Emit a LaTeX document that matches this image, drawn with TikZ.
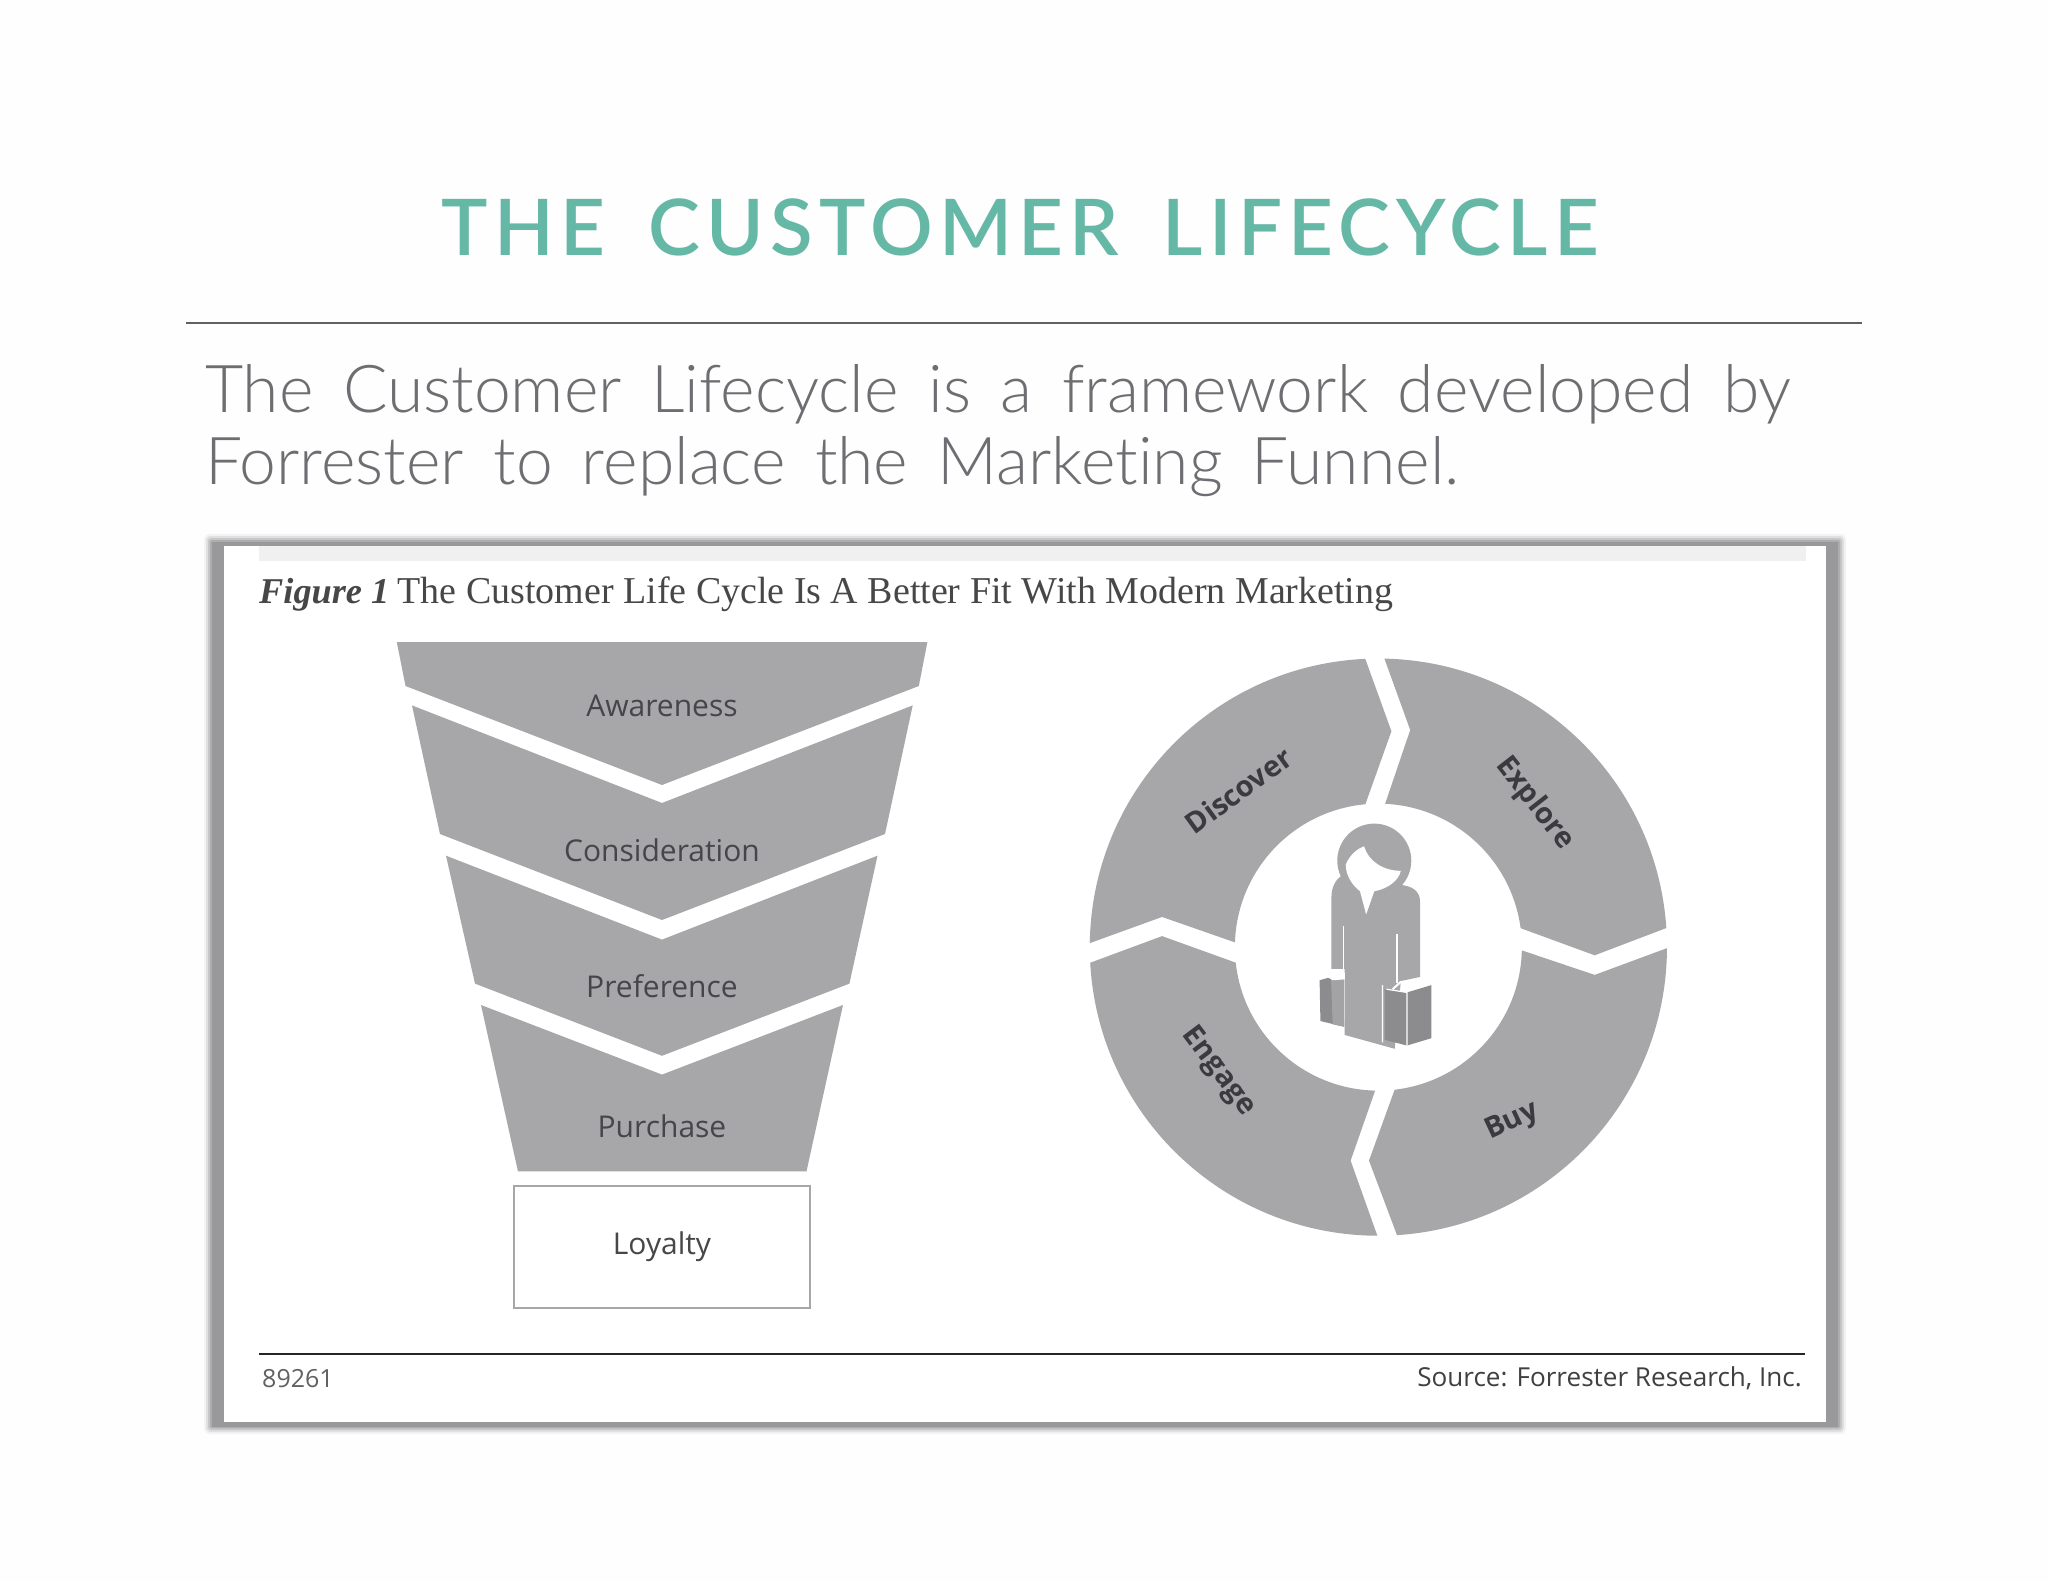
\documentclass[tikz,border=0pt]{standalone}
\usepackage{fontspec}
\setmainfont{Open Sans}
\newfontfamily\titlefont[LetterSpace=8,WordSpace=1.7,Ligatures=NoCommon]{Lato Semibold}
\newfontfamily\bodyfont[Ligatures=NoCommon]{Lato Light}
\newfontfamily\capfont{Liberation Serif}
\definecolor{teal}{HTML}{66B8A6}
\definecolor{bodygrey}{HTML}{6E6E72}
\definecolor{shapegrey}{HTML}{A7A6A9}
\definecolor{bagdark}{HTML}{8C8B8E}
\definecolor{labelink}{HTML}{45454A}
\definecolor{framegrey}{HTML}{99989B}
\tikzset{
  funnelpart/.style={fill=shapegrey,draw=none},
  funnellabel/.style={text=labelink,font=\fontsize{30}{30}\selectfont,inner sep=0pt},
  ringlabel/.style={text=labelink!85!black,font=\fontsize{29}{29}\selectfont\bfseries,inner sep=0pt},
  ringpart/.style={fill=shapegrey,draw=none},
  bodyline/.style={text=bodygrey,font=\bodyfont\fontsize{66}{66}\selectfont,anchor=base west,inner sep=0pt},
}
\begin{document}
\begin{tikzpicture}[x=1pt,y=-1pt]
\useasboundingbox (0,0) rectangle (2048,1582);
\fill[white!99.5!black] (0,0) rectangle (2048,1582);
% title
\node[text=teal,font=\titlefont\fontsize{78}{78}\selectfont,anchor=base,inner sep=0pt] (title) at (1020,255) {THE CUSTOMER LIFECYCLE};
\draw[color=black!62,line width=1.5pt] (186,323) -- (1862,323);
\node[bodyline] (line1) at (205,412) {\makebox[1586pt][s]{The Customer Lifecycle is a framework developed by}};
\node[bodyline] (line2) at (205,484) {\makebox[1254pt][s]{Forrester to replace the Marketing Funnel.}};
% frame
\fill[framegrey!12!white,rounded corners=5pt] (204,534) rectangle (1846,1434);
\fill[framegrey!30!white,rounded corners=4pt] (206,536) rectangle (1844,1432);
\fill[framegrey!55!white,rounded corners=3pt] (208,538) rectangle (1842,1430);
\fill[framegrey!80!white,rounded corners=2pt] (210,540) rectangle (1840,1428);
\fill[framegrey] (212,542) rectangle (1838,1427);
\fill[white] (224,546) rectangle (1826,1422);
\fill[black!6] (259,546) rectangle (1806,561);
% caption
\node[anchor=base west,inner sep=0pt,text=black!72,font=\capfont\fontsize{37.95}{38}\selectfont] (cap) at (259,603) {{\fontsize{36.3}{38}\selectfont\bfseries\itshape Figure 1}\hspace{-1pt} The Customer Life Cycle Is A Better Fit With Modern Marketing};
% funnel
\fill[funnelpart] (396.8,642) -- (927.4,642) -- (918.8,686) -- (662,785) -- (405.5,686) -- cycle;
\fill[funnelpart] (412,705.4) -- (662,803) -- (912.7,705.4) -- (885,834) -- (662,920) -- (440,834) -- cycle;
\fill[funnelpart] (446,855.7) -- (662,939.6) -- (877.5,855.7) -- (849.4,983.6) -- (662,1055.8) -- (475,983.6) -- cycle;
\fill[funnelpart] (481,1005) -- (662,1074.6) -- (843,1005) -- (806.5,1171.4) -- (518,1171.4) -- cycle;
\node[funnellabel] (awareness) at (662,705.4) {Awareness};
\node[funnellabel] (consideration) at (662,850) {Consideration};
\node[funnellabel] (preference) at (662,986.5) {Preference};
\node[funnellabel] (purchase) at (662,1126) {Purchase};
\node[funnellabel,draw=shapegrey,line width=1.5pt,minimum width=296pt,minimum height=122pt,text=black!72] (loyalty) at (662,1247) {\raisebox{-1.5pt}{Loyalty}};
% bottom rule
\draw[black!85,line width=1.6pt] (259,1354) -- (1805,1354);
\node[anchor=base west,inner sep=0pt,text=black!62,font=\fontsize{25}{25}\selectfont] (code) at (262,1387) {89261};
\node[anchor=base east,inner sep=0pt,text=black!75,font=\fontsize{26.1}{26}\selectfont] (source) at (1802,1386) {Source: Forrester Research, Inc.};
% ring
\begin{scope}[shift={(1060,630)},x=0.40816pt,y=-0.40816pt]
\coordinate (rc) at (780,777);
\def\RO{288.6pt}
\def\RI{143.5pt}
\fill[ringpart] ([shift={(92.6:\RO)}]rc) -- (812,248) -- ([shift={(95.2:\RI)}]rc)
  arc[start angle=95.2,end angle=178.1,radius=\RI] -- (250,703) -- ([shift={(179.2:\RO)}]rc)
  arc[start angle=179.2,end angle=92.6,radius=\RO] -- cycle;
\fill[ringpart] ([shift={(88.8:\RO)}]rc) -- (858,245) -- ([shift={(87.3:\RI)}]rc)
  arc[start angle=87.3,end angle=7.6,radius=\RI] -- (1310,797) -- ([shift={(3.8:\RO)}]rc)
  arc[start angle=3.8,end angle=88.8,radius=\RO] -- cycle;
\fill[ringpart] ([shift={(-0.2:\RO)}]rc) -- (1310,845) -- ([shift={(-1.3:\RI)}]rc)
  arc[start angle=-1.3,end angle=-83.5,radius=\RI] -- (757,1300) -- ([shift={(-86.3:\RO)}]rc)
  arc[start angle=-86.3,end angle=-0.2,radius=\RO] -- cycle;
\fill[ringpart] ([shift={(-90.2:\RO)}]rc) -- (712,1300) -- ([shift={(-91.3:\RI)}]rc)
  arc[start angle=-91.3,end angle=-173.8,radius=\RI] -- (250,750) -- ([shift={(-176.9:\RO)}]rc)
  arc[start angle=-176.9,end angle=-90.2,radius=\RO] -- cycle;
\node[ringlabel,rotate=36] (discover) at (437,393) {Discover};
\node[ringlabel,rotate=-52] (explore) at (1163,425) {Explore};
\node[ringlabel,rotate=25] (buy) at (1108,1205) {Buy};
\node[ringlabel,rotate=-53] (engage) at (388,1082) {Engage};
% person
\fill[shapegrey] (770,565) circle[radius=37pt];
\fill[shapegrey] (665,830) -- (665,655) .. controls (665,625) and (680,605) .. (695,600) -- (840,625)
  .. controls (870,630) and (882,645) .. (882,665) -- (882,850) -- (835,860)
  -- (820,1026) -- (697,992) -- (697,830) -- cycle;
\fill[white] (700,575) .. controls (710,550) and (730,535) .. (745,530)
  .. controls (755,565) and (790,590) .. (835,590)
  .. controls (830,615) and (800,635) .. (770,640) -- (750,697) -- (735,640)
  .. controls (715,625) and (700,600) .. (700,575) -- cycle;
\draw[white,line width=1.6pt] (695,725) -- (695,835) (825,745) -- (825,865);
\fill[bagdark] (636,858) -- (694,842) -- (696,972) -- (638,958) -- cycle;
\fill[bagdark!80!white] (660,852) -- (696,842) -- (696,972) -- (668,966) -- (664,855) -- cycle;
\fill[white] (655,850) -- (680,832) -- (698,840) -- (698,856) -- (668,858) -- cycle;
\fill[bagdark] (795,880) -- (850,888) -- (910,870) -- (910,1000) -- (850,1018) -- (795,1004) -- cycle;
\draw[white,line width=1.2pt] (790,870) -- (790,1010) (800,880) -- (850,888) -- (850,1018);
\draw[white,line width=2pt] (815,880) -- (835,862) -- (870,870);
\end{scope}
\end{tikzpicture}
\end{document}
